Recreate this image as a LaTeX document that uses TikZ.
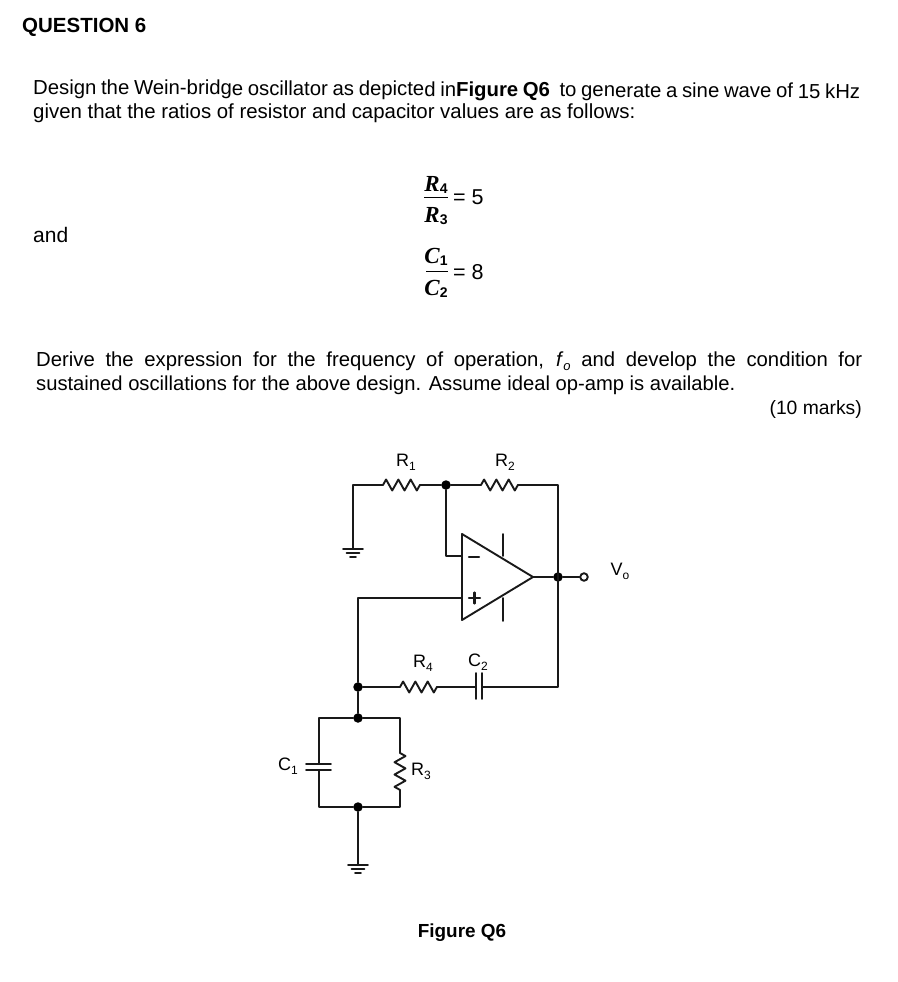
\documentclass[tikz,border=0pt]{standalone}
\usepackage{fontspec}
\setmainfont{Liberation Sans}
\newfontfamily\eqserif{Liberation Serif}
\usetikzlibrary{decorations.pathmorphing}
\newcommand{\sbs}[1]{\raisebox{-0.22em}{\fontsize{12}{13}\selectfont #1}}
\newcommand{\vsb}[1]{{\eqserif\bfseries\itshape\fontsize{23}{26}\selectfont #1}}
\newcommand{\vsub}[1]{\raisebox{-0.22em}{\fontsize{14}{15}\selectfont\bfseries #1}}
\tikzset{
  wire/.style={line width=1.9pt,black!90,line cap=round,line join=round},
  res/.style={wire,decorate,decoration={zigzag,segment length=12.3pt,amplitude=5.5pt}},
  dot/.style={circle,fill=black,inner sep=0pt,minimum size=9.5pt},
  term/.style={circle,draw=black!90,fill=white,line width=1.9pt,inner sep=0pt,minimum size=7.5pt},
  body/.style={anchor=base west,inner sep=0pt,font=\fontsize{20.3}{24}\selectfont},
  lab/.style={inner sep=0pt,font=\fontsize{18}{20}\selectfont},
  eqn/.style={inner sep=0pt,anchor=base},
  pics/earth/.style={code={
    \draw[wire] (-10,0) -- (10,0);
    \draw[wire] (-6.5,4) -- (6.5,4);
    \draw[wire] (-3,8) -- (3,8);
  }}
}
\begin{document}
\begin{tikzpicture}[x=1pt,y=-1pt]
\useasboundingbox (0,0) rectangle (897,982);
% texts
\node[body,font=\fontsize{20.5}{24}\selectfont\bfseries] (title) at (22,33) {QUESTION 6};
\node[body,rotate=-0.3] (l1) at (33,94) {\makebox[827pt][s]{Design the Wein-bridge oscillator as depicted in\textbf{Figure Q6} \ to generate a sine wave of 15 kHz}};
\node[body,font=\fontsize{20.4}{24}\selectfont] (l2) at (33,118) {given that the ratios of resistor and capacitor values are as follows:};
\node[body,font=\fontsize{21}{24}\selectfont] (and) at (33,242) {and};
\node[eqn] (n1) at (436,191) {\vsb{R}\vsub{4}};
\node[eqn] (d1) at (436,222) {\vsb{R}\vsub{3}};
\node[body,font=\fontsize{21.5}{24}\selectfont] (e1) at (453,204) {= 5};
\node[eqn] (n2) at (436,263) {\vsb{C}\vsub{1}};
\node[eqn] (d2) at (436,295) {\vsb{C}\vsub{2}};
\node[body,font=\fontsize{21.5}{24}\selectfont] (e2) at (453,279) {= 8};
\draw[line width=1.6pt] (424,197.5) -- (448,197.5);
\draw[line width=1.6pt] (426,271.5) -- (448,271.5);
\node[body] (l3) at (36,366) {\makebox[826pt][s]{Derive the expression for the frequency of operation, \textit{f}\raisebox{-0.2em}{\fontsize{13}{14}\selectfont\textit{o}} and develop the condition for}};
\node[body,font=\fontsize{20.2}{24}\selectfont] (l4) at (36,390) {sustained oscillations for the above design. Assume ideal op-amp is available.};
\node[body,anchor=base east,font=\fontsize{19.3}{24}\selectfont] (marks) at (862,414) {(10 marks)};
\node[body,font=\fontsize{18.9}{22}\selectfont\bfseries,anchor=base] (figcap) at (462,937) {Figure Q6};
% circuit points
\node[dot] (jA) at (446,485) {};
\node[dot] (jO) at (558,577) {};
\node[term] (vo) at (584,577) {};
\node[dot] (jP) at (358,687) {};
\node[dot] (jQ) at (358,718) {};
\node[dot] (jB) at (358,807) {};
\coordinate (g1) at (353,549);
\coordinate (g2) at (358,865);
\coordinate (c1) at (353,485);
\coordinate (R1a) at (383,485);
\coordinate (R1b) at (420,485);
\coordinate (R2a) at (481,485);
\coordinate (R2b) at (518,485);
\coordinate (c2) at (558,485);
\coordinate (c3) at (558,687);
\coordinate (R4a) at (400,687);
\coordinate (R4b) at (437,687);
\coordinate (C2a) at (476,687);
\coordinate (C2b) at (482,687);
\coordinate (tl) at (462,534);
\coordinate (bl) at (462,620);
\coordinate (tip) at (533,577);
\coordinate (inm) at (462,556);
\coordinate (inp) at (462,598);
\coordinate (ql) at (319,718);
\coordinate (qr) at (400,718);
\coordinate (bl2) at (319,807);
\coordinate (br2) at (400,807);
\coordinate (C1a) at (319,764);
\coordinate (C1b) at (319,770);
\coordinate (R3a) at (400,753);
\coordinate (R3b) at (400,791);
% op-amp
\draw[wire] (tl) -- (bl) -- (tip) -- cycle;
\draw[wire] (503,534) -- (503,556);
\draw[wire] (503,598) -- (503,621);
\draw[wire,line width=2.4pt] (469,557) -- (479,557);
\draw[wire,line width=2.2pt] (469,598) -- (480,598) (474.5,592.5) -- (474.5,603.5);
% wires
\draw[wire] (g1) -- (c1) -- (R1a);
\draw[res] (R1a) -- (R1b);
\draw[wire] (R1b) -- (jA) -- (R2a);
\draw[res] (R2a) -- (R2b);
\draw[wire] (R2b) -- (c2) -- (c3) -- (C2b);
\draw[wire] (jA) |- (inm);
\draw[wire] (tip) -- (jO) -- (vo);
\draw[wire] (inp) -| (jP);
\draw[wire] (jP) -- (R4a);
\draw[res] (R4a) -- (R4b);
\draw[wire] (R4b) -- (C2a);
\draw[wire] (476,673) -- (476,699);
\draw[wire] (482,673) -- (482,699);
\draw[wire] (jP) -- (jQ);
\draw[wire] (jB) -- (g2);
\draw[wire] (jQ) -- (ql) -- (C1a);
\draw[wire] (306,764) -- (331,764);
\draw[wire] (306,770) -- (331,770);
\draw[wire] (C1b) -- (bl2) -- (jB) -- (br2) -- (R3b);
\draw[wire] (jQ) -- (qr) -- (R3a);
\draw[res] (R3a) -- (R3b);
\pic at (g1) {earth};
\pic at (g2) {earth};
% labels
\node[lab] (tR1) at (406,462) {R\sbs{1}};
\node[lab] (tR2) at (505,462) {R\sbs{2}};
\node[lab] (tVo) at (620,571) {V\sbs{o}};
\node[lab] (tR4) at (423,663) {R\sbs{4}};
\node[lab] (tC2) at (478,662) {C\sbs{2}};
\node[lab] (tC1) at (288,766) {C\sbs{1}};
\node[lab] (tR3) at (421,771) {R\sbs{3}};
\end{tikzpicture}
\end{document}
